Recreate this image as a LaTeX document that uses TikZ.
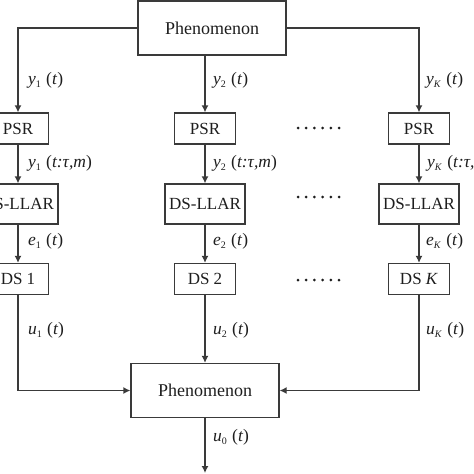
\documentclass[tikz,border=0pt]{standalone}
\usepackage{fontspec}
\setmainfont{Liberation Serif}
\usetikzlibrary{arrows.meta}
\definecolor{lc}{HTML}{3A3A3A}
\definecolor{tc}{HTML}{1E1E1E}
\newcommand{\lbl}[3]{\textit{#1}\raisebox{-0.45ex}{\fontsize{10}{10}\selectfont #2}\hspace{0.3em}(\textit{#3})}
\begin{document}
\begin{tikzpicture}[x=1pt,y=-1pt,
  every node/.style={font=\fontsize{17}{19}\selectfont, text=tc},
  blk/.style={draw=lc, line width=1.3pt, inner sep=0pt, fill=white},
  bigbox/.style={blk, minimum width=148pt, minimum height=54pt},
  psrbox/.style={blk, minimum width=61pt, minimum height=31pt},
  llarbox/.style={blk, minimum width=80pt, minimum height=40pt},
  dsbox/.style={blk, minimum width=61pt, minimum height=31pt},
  arr/.style={draw=lc, line width=1.3pt, -{Latex[length=7pt,width=7pt]}},
  lab/.style={anchor=west, inner sep=0pt, font=\fontsize{17.5}{19}\selectfont}
]
\useasboundingbox (0,0) rectangle (474,474);

% top and bottom boxes
\node[bigbox, font=\fontsize{18}{20}\selectfont] (top) at (212,28) {Phenomenon};
\node[bigbox, font=\fontsize{18}{20}\selectfont] (bot) at (205,390.5) {Phenomenon};

% column boxes
\node[psrbox] (psr1) at (18,128.5) {PSR};
\node[psrbox] (psr2) at (205,128.5) {PSR};
\node[psrbox] (psr3) at (419,128.5) {PSR};
\node[llarbox] (llar1) at (18,204) {DS-LLAR};
\node[llarbox] (llar2) at (205,204) {DS-LLAR};
\node[llarbox] (llar3) at (419,204) {DS-LLAR};
\node[dsbox] (ds1) at (18,279) {DS 1};
\node[dsbox] (ds2) at (205,279) {DS 2};
\node[dsbox] (ds3) at (419,279) {DS \textit{K}};

% connectors
\draw[arr] (top.west) -| (psr1.north);
\draw[arr] (psr2.north |- top.south) -- (psr2.north);
\draw[arr] (top.east) -| (psr3.north);
\foreach \i in {1,2,3}{
  \draw[arr] (psr\i) -- (llar\i);
  \draw[arr] (llar\i) -- (ds\i);
}
\draw[arr] (ds1.south) |- (bot.west);
\draw[arr] (ds2) -- (bot);
\draw[arr] (ds3.south) |- (bot.east);
\coordinate (out) at (205,473);
\draw[arr] (bot.south) -- (out);

% labels
\node[lab] (l1) at (28,80) {\lbl{y}{1}{t}};
\node[lab] (l2) at (213,80) {\lbl{y}{2}{t}};
\node[lab] (l3) at (426,80) {\lbl{y}{\textit{K}}{t}};
\node[lab] (m1) at (28,163) {\lbl{y}{1}{t:τ,m}};
\node[lab] (m2) at (213,163) {\lbl{y}{2}{t:τ,m}};
\node[lab] (m3) at (427,163) {\lbl{y}{\textit{K}}{t:τ,m}};
\node[lab] (e1) at (28,241) {\lbl{e}{1}{t}};
\node[lab] (e2) at (213,241) {\lbl{e}{2}{t}};
\node[lab] (e3) at (426,241) {\lbl{e}{\textit{K}}{t}};
\node[lab] (u1) at (28,330) {\lbl{u}{1}{t}};
\node[lab] (u2) at (213,330) {\lbl{u}{2}{t}};
\node[lab] (u3) at (426,330) {\lbl{u}{\textit{K}}{t}};
\node[lab] (u0) at (213,437) {\lbl{u}{0}{t}};

% dots
\foreach \y in {128,197,280}{
  \foreach \k in {0,...,5}{
    \fill[tc] (298+8.2*\k,\y) circle (1.5pt);
  }
}
\end{tikzpicture}
\end{document}
